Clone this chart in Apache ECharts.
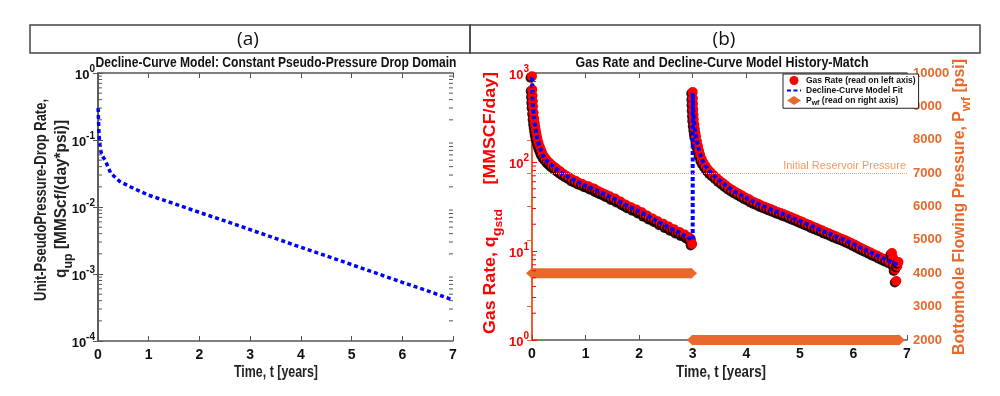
<!DOCTYPE html>
<html><head><meta charset="utf-8">
<script src="https://cdn.jsdelivr.net/npm/echarts@6/dist/echarts.min.js"></script>
<style>html,body{margin:0;padding:0;background:#fff}#c{width:1000px;height:396px}</style>
</head><body><div id="c"></div>
<script>
// ---------- DATA ----------
const xTicks = [0,1,2,3,4,5,6,7];
// panel (a): unit pseudo-pressure-drop rate
const upT = [0.003,0.01,0.02,0.04,0.07,0.14,0.25,0.43,0.7,1.0,1.5,2.0,2.5,3.0,3.5,4.0,4.5,5.0,5.5,6.0,6.5,7.0];
const upQ = [0.30,0.20,0.12,0.08,0.06,0.05,0.032,0.024,0.019,0.015,0.0112,0.0083,0.0062,0.0046,0.0034,0.0025,0.00187,0.00138,0.00102,0.00075,0.00056,0.00041];
// panel (b): measured gas rate, MMSCF/day
const gasT1 = [0,0.005,0.01,0.015,0.02,0.03,0.04,0.05,0.06,0.07,0.08,0.09,0.10,0.12,0.14,0.16,0.18,0.20,0.23,0.26,0.30,0.34,0.38,0.43,0.48,0.53,0.58,0.64,0.70,0.76,0.82,0.88,0.94,1.00,1.05,1.10,1.15,1.20,1.25,1.30,1.35,1.40,1.45,1.50,1.55,1.60,1.65,1.70,1.75,1.80,1.85,1.90,1.95,2.00,2.05,2.10,2.15,2.20,2.25,2.30,2.35,2.40,2.45,2.50,2.55,2.60,2.65,2.70,2.75,2.80,2.85,2.90,2.94,2.97,2.99];
const gasQ1 = [920,650,560,480,420,360,310,275,250,228,210,195,183,165,150,140,130,122,114,108,101,96,91,87,82,78,74,70,67,63,61,58,56.5,54,53.5,51,50.5,48,46.5,45,43.8,42,41.2,39,38.8,36.5,36,34,33,31.5,31,29.5,29.2,27.5,27.2,25.3,25,23.5,23.2,22,21.6,20.3,20.2,18.9,18.8,17.6,17.6,16.4,16.4,15.3,15.3,14.4,14.2,13.4,12.0];
const gasT2 = [3.00,3.003,3.006,3.01,3.015,3.02,3.03,3.04,3.05,3.06,3.08,3.10,3.12,3.14,3.17,3.20,3.24,3.28,3.33,3.38,3.44,3.50,3.56,3.62,3.68,3.74,3.80,3.86,3.92,3.98,4.04,4.10,4.16,4.22,4.28,4.34,4.40,4.46,4.52,4.58,4.64,4.70,4.76,4.82,4.88,4.94,5.00,5.06,5.12,5.18,5.24,5.30,5.36,5.42,5.48,5.54,5.60,5.66,5.72,5.78,5.84,5.90,5.96,6.02,6.08,6.14,6.20,6.26,6.32,6.38,6.44,6.50,6.56,6.62,6.68,6.72,6.74,6.76,6.78,6.80,6.82,6.84];
const gasQ2 = [610,520,450,390,340,300,262,235,212,195,170,150,133,120,107,98,90,83,77,72,67,62,58,54.5,51,48.5,46,44,42,40,38.5,36.5,35,34,32.5,31.5,30.5,29.5,28.5,27.5,26.8,25.8,25,24.2,23.3,22.6,21.8,21.0,20.2,19.6,18.8,18.2,17.6,17.0,16.3,15.8,15.2,14.7,14.2,13.7,13.3,12.8,12.3,11.8,11.3,10.8,10.4,10.0,9.6,9.2,8.9,8.5,8.2,7.9,7.6,9.5,8.4,7.0,6.2,4.6,6.8,7.5];
// decline-curve model fit
const fitT = [0.002,0.01,0.02,0.04,0.06,0.08,0.10,0.14,0.20,0.30,0.43,0.60,0.80,1.00,1.25,1.50,1.75,2.00,2.25,2.50,2.75,3.00,3.00,3.01,3.02,3.04,3.06,3.10,3.15,3.20,3.30,3.45,3.60,3.80,4.00,4.25,4.50,4.75,5.00,5.25,5.50,5.75,6.00,6.25,6.50,6.75,6.84];
const fitQ = [900,560,420,305,245,207,180,148,120,100,86,72,62,54,46.5,39.5,33,27.8,23.2,19.2,16.1,13.2,600,390,300,235,195,150,116,98,80,66,55.5,46,39.5,33.3,28.8,25.1,21.8,18.8,16.1,14.0,12.0,10.1,8.6,7.3,6.9];
// bottomhole flowing pressure, psi
const pwfT1 = [0, 2.97];
const pwfP1 = [4000, 4000];
const pwfT2 = [3.0, 6.85];
const pwfP2 = [2000, 2000];
const initialReservoirPressure = 7000;

// ---------- HELPERS ----------
const zip = (a,b) => a.map((v,i)=>[v,b[i]]);
const NF = "'Liberation Sans',Arial,sans-serif";
const RED = '#FF0000', ORANGE = '#E8692B', BLUE = '#0000FF', FRAME = '#555';
const mctx = document.createElement('canvas').getContext('2d');
function tw(parts){ let w=0; parts.forEach(([t,f])=>{ mctx.font=f; w+=mctx.measureText(t).width; }); return w; }
function minorVals(lo, hi){ const out=[]; for(let e=lo;e<hi;e++){ for(let m=2;m<=9;m++) out.push([0, m*Math.pow(10,e)]); } return out; }
function powLabel(color){
  return {
    formatter: v => '{b|10}{s|' + Math.round(Math.log10(v)) + '}',
    rich: {
      b:{fontFamily:NF,fontWeight:'bold',fontSize:13,color:color,lineHeight:17,verticalAlign:'bottom'},
      s:{fontFamily:NF,fontWeight:'bold',fontSize:10,color:color,lineHeight:17,verticalAlign:'top'}
    }
  };
}
function tickSeries(xi, yi, xmax, color, both, vals){
  return {
    type:'custom', xAxisIndex:xi, yAxisIndex:yi, silent:true, clip:false, z:5,
    data: vals, encode:{x:0,y:1},
    renderItem:(params, api)=>{
      const v = api.value(1);
      const pL = api.coord([0, v]);
      const pR = api.coord([xmax, v]);
      const ch = [{type:'line',shape:{x1:pL[0],y1:pL[1],x2:pL[0]+4,y2:pL[1]},style:{stroke:color,lineWidth:1}}];
      if (both) ch.push({type:'line',shape:{x1:pR[0]-4,y1:pR[1],x2:pR[0],y2:pR[1]},style:{stroke:color,lineWidth:1}});
      return {type:'group',children:ch};
    }
  };
}
function xAx(grid, pos, showLabels){
  return {
    type:'value', gridIndex:grid, position:pos, min:0, max:7, interval:1,
    axisLine:{show:true,onZero:false,lineStyle:{color:FRAME,width:1.5}},
    axisTick:{show:true,inside:true,length:5,lineStyle:{color:FRAME}},
    axisLabel:{show:showLabels,fontFamily:NF,fontWeight:'bold',fontSize:14,color:'#111',margin:7},
    splitLine:{show:false}
  };
}
// fitted text element (narrow look via horizontal scaling)
function fitText(x, y, parts, rich, width, rot){
  const w = tw(parts.map(p=>[p[1], rich[p[0]].font]));
  const s = width / w;
  return {type:'text', x:x, y:y, rotation:rot||0, scaleX:s, scaleY:1,
    style:{text: parts.map(p=>'{'+p[0]+'|'+p[1]+'}').join(''), rich:rich, textAlign:'center', textVerticalAlign:'middle'}};
}
const bf = (sz)=>"bold "+sz+"px "+NF;
const titleRich = {t:{font:bf(15),fill:'#111'}};
const nameRich = (c)=>({b:{font:bf(16),fill:c,lineHeight:26,verticalAlign:'middle'},s:{font:bf(13),fill:c,lineHeight:26,verticalAlign:'bottom'},ss:{font:bf(11),fill:c,lineHeight:26,verticalAlign:'bottom'}});

const chart = echarts.init(document.getElementById('c'));
chart.setOption({
  animation:false,
  backgroundColor:'#fff',
  grid:[
    {left:98, right:547, top:73, bottom:55},
    {left:532, right:93, top:73, bottom:56}
  ],
  xAxis:[ xAx(0,'bottom',true), xAx(0,'top',false), xAx(1,'bottom',true), xAx(1,'top',false) ],
  yAxis:[
    {type:'log', logBase:10, gridIndex:0, position:'left', min:1e-4, max:1,
     axisLine:{show:true,lineStyle:{color:FRAME,width:1.5}}, axisTick:{show:true,inside:true,length:5,lineStyle:{color:FRAME}},
     axisLabel:Object.assign({margin:3}, powLabel('#111')), splitLine:{show:false}},
    {type:'log', logBase:10, gridIndex:0, position:'right', min:1e-4, max:1,
     axisLine:{show:true,lineStyle:{color:FRAME,width:1.5}}, axisTick:{show:true,inside:true,length:5,lineStyle:{color:FRAME}},
     axisLabel:{show:false}, splitLine:{show:false}},
    {type:'log', logBase:10, gridIndex:1, position:'left', min:1, max:1000,
     axisLine:{show:true,lineStyle:{color:RED,width:1.5}}, axisTick:{show:true,inside:true,length:5,lineStyle:{color:RED}},
     axisLabel:Object.assign({margin:3}, powLabel(RED)), splitLine:{show:false}},
    {type:'value', gridIndex:1, position:'right', min:2000, max:10000, interval:1000,
     axisLine:{show:true,lineStyle:{color:ORANGE,width:1.5}}, axisTick:{show:true,inside:true,length:5,lineStyle:{color:ORANGE}},
     axisLabel:{fontFamily:NF,fontWeight:'bold',fontSize:13,color:ORANGE,margin:6,formatter:v=>String(v)}, splitLine:{show:false}}
  ],
  legend:{
    left:783, top:74, orient:'vertical', itemGap:1, itemWidth:14, itemHeight:9,
    padding:[2,3,2,3], backgroundColor:'#fff', borderColor:'#222', borderWidth:1,
    data:[{name:'Gas Rate (read on left axis)',icon:'circle'},
          {name:'Decline-Curve Model Fit',itemStyle:{color:'rgba(0,0,0,0)',borderWidth:0,opacity:0}},
          {name:'Pwf',icon:'diamond'}],
    formatter: n => n==='Pwf' ? '{t|P}{s|wf}{t| (read on right axis)}' : '{t|'+n+'}',
    textStyle:{rich:{
      t:{fontFamily:NF,fontWeight:'bold',fontSize:8.5,color:'#111',lineHeight:11.5,verticalAlign:'middle'},
      s:{fontFamily:NF,fontWeight:'bold',fontSize:7,color:'#111',lineHeight:11.5,verticalAlign:'bottom'}
    }}
  },
  graphic:[
    {type:'rect',shape:{x:30,y:25,width:440,height:28},style:{fill:'none',stroke:'#444',lineWidth:1.5}},
    {type:'rect',shape:{x:470,y:25,width:510,height:28},style:{fill:'none',stroke:'#444',lineWidth:1.5}},
    {type:'text',x:248,y:40,style:{text:'(a)',font:"19px 'Open Sans',sans-serif",fill:'#111',textAlign:'center',textVerticalAlign:'middle'}},
    {type:'text',x:724,y:40,style:{text:'(b)',font:"19px 'Open Sans',sans-serif",fill:'#111',textAlign:'center',textVerticalAlign:'middle'}},
    fitText(276,63,[['t','Decline-Curve Model: Constant Pseudo-Pressure Drop Domain']],titleRich,361),
    fitText(722,63,[['t','Gas Rate and Decline-Curve Model History-Match']],titleRich,293),
    fitText(276,373,[['t','Time, t [years]']],{t:{font:bf(16),fill:'#222'}},84),
    fitText(721,373,[['t','Time, t [years]']],{t:{font:bf(16),fill:'#222'}},90),
    fitText(42,200,[['b','Unit-PseudoPressure-Drop Rate,']],nameRich('#222'),202,Math.PI/2),
    fitText(62,199,[['b','q'],['s','up'],['b',' [MMScf/(day*psi)]']],nameRich('#222'),158,Math.PI/2),
    fitText(491,203,[['b','Gas Rate, q'],['s','g'],['ss','std'],['b','     [MMSCF/day]']],nameRich(RED),262,Math.PI/2),
    fitText(960,207,[['b','Bottomhole Flowing Pressure, P'],['s','wf'],['b',' [psi]']],nameRich(ORANGE),296,Math.PI/2)
  ],
  series:[
    {type:'line', xAxisIndex:0, yAxisIndex:0, data:zip(upT,upQ), showSymbol:false, symbol:'none',
     lineStyle:{color:BLUE,width:3.5,type:[4,3]}, z:3},
    tickSeries(0,0,7,FRAME,true,minorVals(-4,0)),
    tickSeries(2,2,7,RED,false,minorVals(0,3)),
    {name:'Pwf', type:'line', xAxisIndex:2, yAxisIndex:3, data:zip(pwfT1,pwfP1), symbol:'diamond', symbolSize:[12,11], showSymbol:true,
     legendIcon:'diamond', itemStyle:{color:ORANGE}, lineStyle:{color:ORANGE,width:10}, z:2,
     markLine:{silent:true, symbol:'none', data:[{yAxis:initialReservoirPressure}],
       lineStyle:{color:'#F5A575',type:'dotted',width:1},
       label:{position:'insideEndTop',formatter:'Initial Reservoir Pressure',color:'#F29A66',fontFamily:NF,fontSize:11,distance:[1,2]}}},
    {name:'Pwf', type:'line', xAxisIndex:2, yAxisIndex:3, data:zip(pwfT2,pwfP2), symbol:'diamond', symbolSize:[12,11], showSymbol:true,
     legendIcon:'diamond', itemStyle:{color:ORANGE}, lineStyle:{color:ORANGE,width:10}, z:2, clip:false},
    {name:'Gas Rate (read on left axis)', type:'scatter', xAxisIndex:2, yAxisIndex:2,
     data:zip(gasT1,gasQ1).concat(zip(gasT2,gasQ2)), symbol:'circle', symbolSize:10,
     itemStyle:{color:RED,borderWidth:0,shadowColor:'rgba(20,0,0,0.9)',shadowOffsetX:-1.5,shadowOffsetY:1.5,shadowBlur:0,opacity:1}, z:3},
    {name:'Decline-Curve Model Fit', type:'line', xAxisIndex:2, yAxisIndex:2, data:zip(fitT,fitQ), showSymbol:false, symbol:'none',
     lineStyle:{color:BLUE,width:4,type:[4,2.5]}, itemStyle:{color:BLUE}, z:4}
  ]
});
</script></body></html>
